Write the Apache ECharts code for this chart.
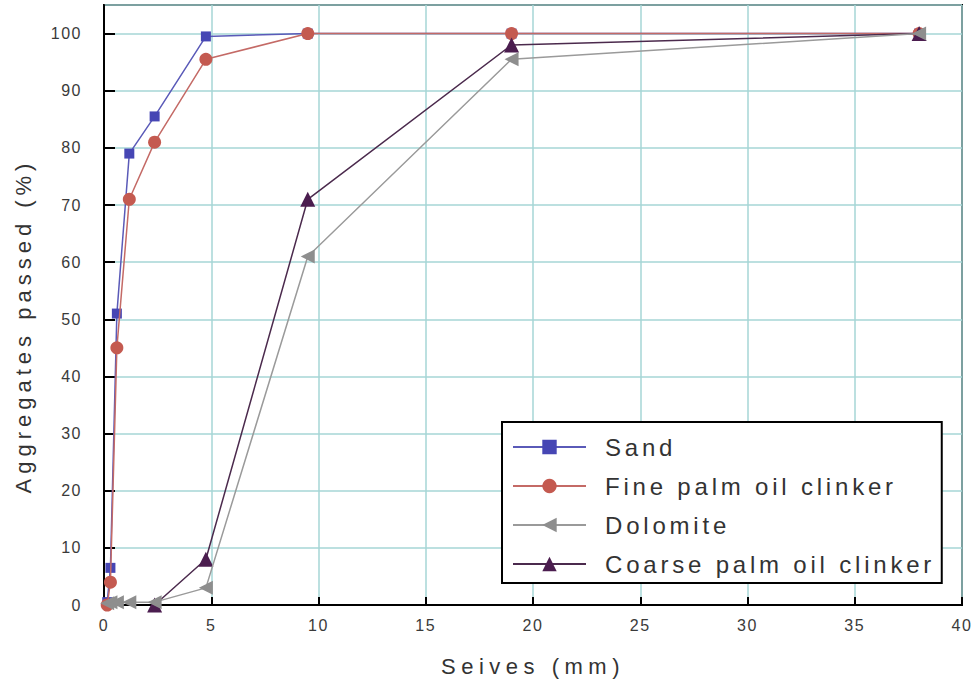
<!DOCTYPE html>
<html>
<head>
<meta charset="utf-8">
<script src="https://cdn.jsdelivr.net/npm/echarts@6/dist/echarts.min.js"></script>
<style>html,body{margin:0;padding:0;background:#fff;}#c{width:975px;height:691px;}</style>
</head>
<body>
<div id="c"></div>
<script>
// ---- data ----
var sieves = [0.15, 0.3, 0.6, 1.18, 2.36, 4.75, 9.5, 19, 38];
var sand = [0.5, 6.5, 51, 79, 85.5, 99.5, 100, 100, 100];
var finePOC = [0, 4, 45, 71, 81, 95.5, 100, 100, 100];
var dolomite = [0.3, 0.5, 0.5, 0.5, 0.5, 3, 61, 95.5, 100];
var coarsePOC = [null, null, null, null, 0, 8, 71, 98, 100];
var seriesNames = ['Sand', 'Fine palm oil clinker', 'Dolomite', 'Coarse palm oil clinker'];
var xTicks = [0, 5, 10, 15, 20, 25, 30, 35, 40];
var yTicks = [0, 10, 20, 30, 40, 50, 60, 70, 80, 90, 100];

function pairs(vals) {
  var out = [];
  for (var i = 0; i < sieves.length; i++) {
    if (vals[i] !== null) out.push([sieves[i], vals[i]]);
  }
  return out;
}

var FONT = '"Liberation Sans", Arial, sans-serif';
var chart = echarts.init(document.getElementById('c'), null, {renderer: 'svg'});
var option = {
  animation: false,
  backgroundColor: '#fff',
  grid: {left: 104, right: 13, top: 5, bottom: 86, show: true, borderColor: '#000', borderWidth: 2, backgroundColor: 'transparent'},
  xAxis: {
    type: 'value', min: xTicks[0], max: xTicks[xTicks.length - 1], interval: 5,
    name: 'Seives (mm)', nameLocation: 'middle', nameGap: 50,
    nameTextStyle: {fontFamily: FONT, fontSize: 22, color: '#333'},
    axisLine: {lineStyle: {color: '#000', width: 2}},
    axisTick: {inside: true, length: 8, lineStyle: {color: '#000', width: 2}},
    axisLabel: {fontFamily: FONT, fontSize: 16, color: '#3a3a3a', margin: 12},
    splitLine: {show: true, lineStyle: {color: '#a6d6d6', width: 1.5}}
  },
  yAxis: {
    type: 'value', min: yTicks[0], max: 105, interval: 10,
    name: 'Aggregates passed (%)', nameLocation: 'middle', nameGap: 70,
    nameTextStyle: {fontFamily: FONT, fontSize: 22, color: '#333', padding: [0, 42, 0, 0]},
    axisLine: {lineStyle: {color: '#000', width: 2}},
    axisTick: {inside: true, length: 11, lineStyle: {color: '#000', width: 2}},
    axisLabel: {fontFamily: FONT, fontSize: 16, color: '#3a3a3a', margin: 22, showMaxLabel: false,
      formatter: function (v) { return yTicks.indexOf(v) >= 0 ? String(v) : ''; }},
    splitLine: {show: true, lineStyle: {color: '#a6d6d6', width: 1.5}}
  },
  legend: {
    data: seriesNames, orient: 'vertical', left: 502, top: 422,
    padding: [13, 94, 7, 10], itemGap: 15, itemWidth: 73, itemHeight: 18,
    borderColor: '#000', borderWidth: 2, backgroundColor: '#fff', borderRadius: 0,
    textStyle: {fontFamily: FONT, fontSize: 24, lineHeight: 24, color: '#333', padding: [0, 0, 0, 14]}
  },
  series: [
    {name: seriesNames[0], type: 'line', data: pairs(sand), symbol: 'rect', symbolSize: 10,
      itemStyle: {color: '#4646b4'}, lineStyle: {color: '#5a5ab8', width: 1.5}, z: 2},
    {name: seriesNames[1], type: 'line', data: pairs(finePOC), symbol: 'circle', symbolSize: 13,
      itemStyle: {color: '#c45a50'}, lineStyle: {color: '#c46a66', width: 1.5}, z: 3},
    {name: seriesNames[3], type: 'line', data: pairs(coarsePOC), symbol: 'triangle', symbolSize: 15,
      itemStyle: {color: '#4b1d4f'}, lineStyle: {color: '#4b2a4d', width: 1.5}, z: 4},
    {name: seriesNames[2], type: 'line', data: pairs(dolomite), symbol: 'triangle', symbolSize: 14, symbolRotate: 90,
      itemStyle: {color: '#8e8e8e'}, lineStyle: {color: '#9a9a9a', width: 1.5}, z: 5}
  ]
};
chart.setOption(option);

function applySpacing() {
  var texts = document.querySelectorAll('#c svg text');
  texts.forEach(function (t) {
    var s = (t.textContent || '').trim();
    var sp = null;
    if (seriesNames.indexOf(s) >= 0) sp = 3.8;
    else if (s === 'Aggregates passed (%)') sp = 5;
    else if (s === 'Seives (mm)') sp = 5.5;
    else if (/^\d+$/.test(s)) sp = 1.5;
    if (sp !== null) t.setAttribute('letter-spacing', sp + 'px');
  });
}
applySpacing();
chart.on('finished', applySpacing);
setTimeout(applySpacing, 50);
setTimeout(applySpacing, 300);
</script>
</body>
</html>
